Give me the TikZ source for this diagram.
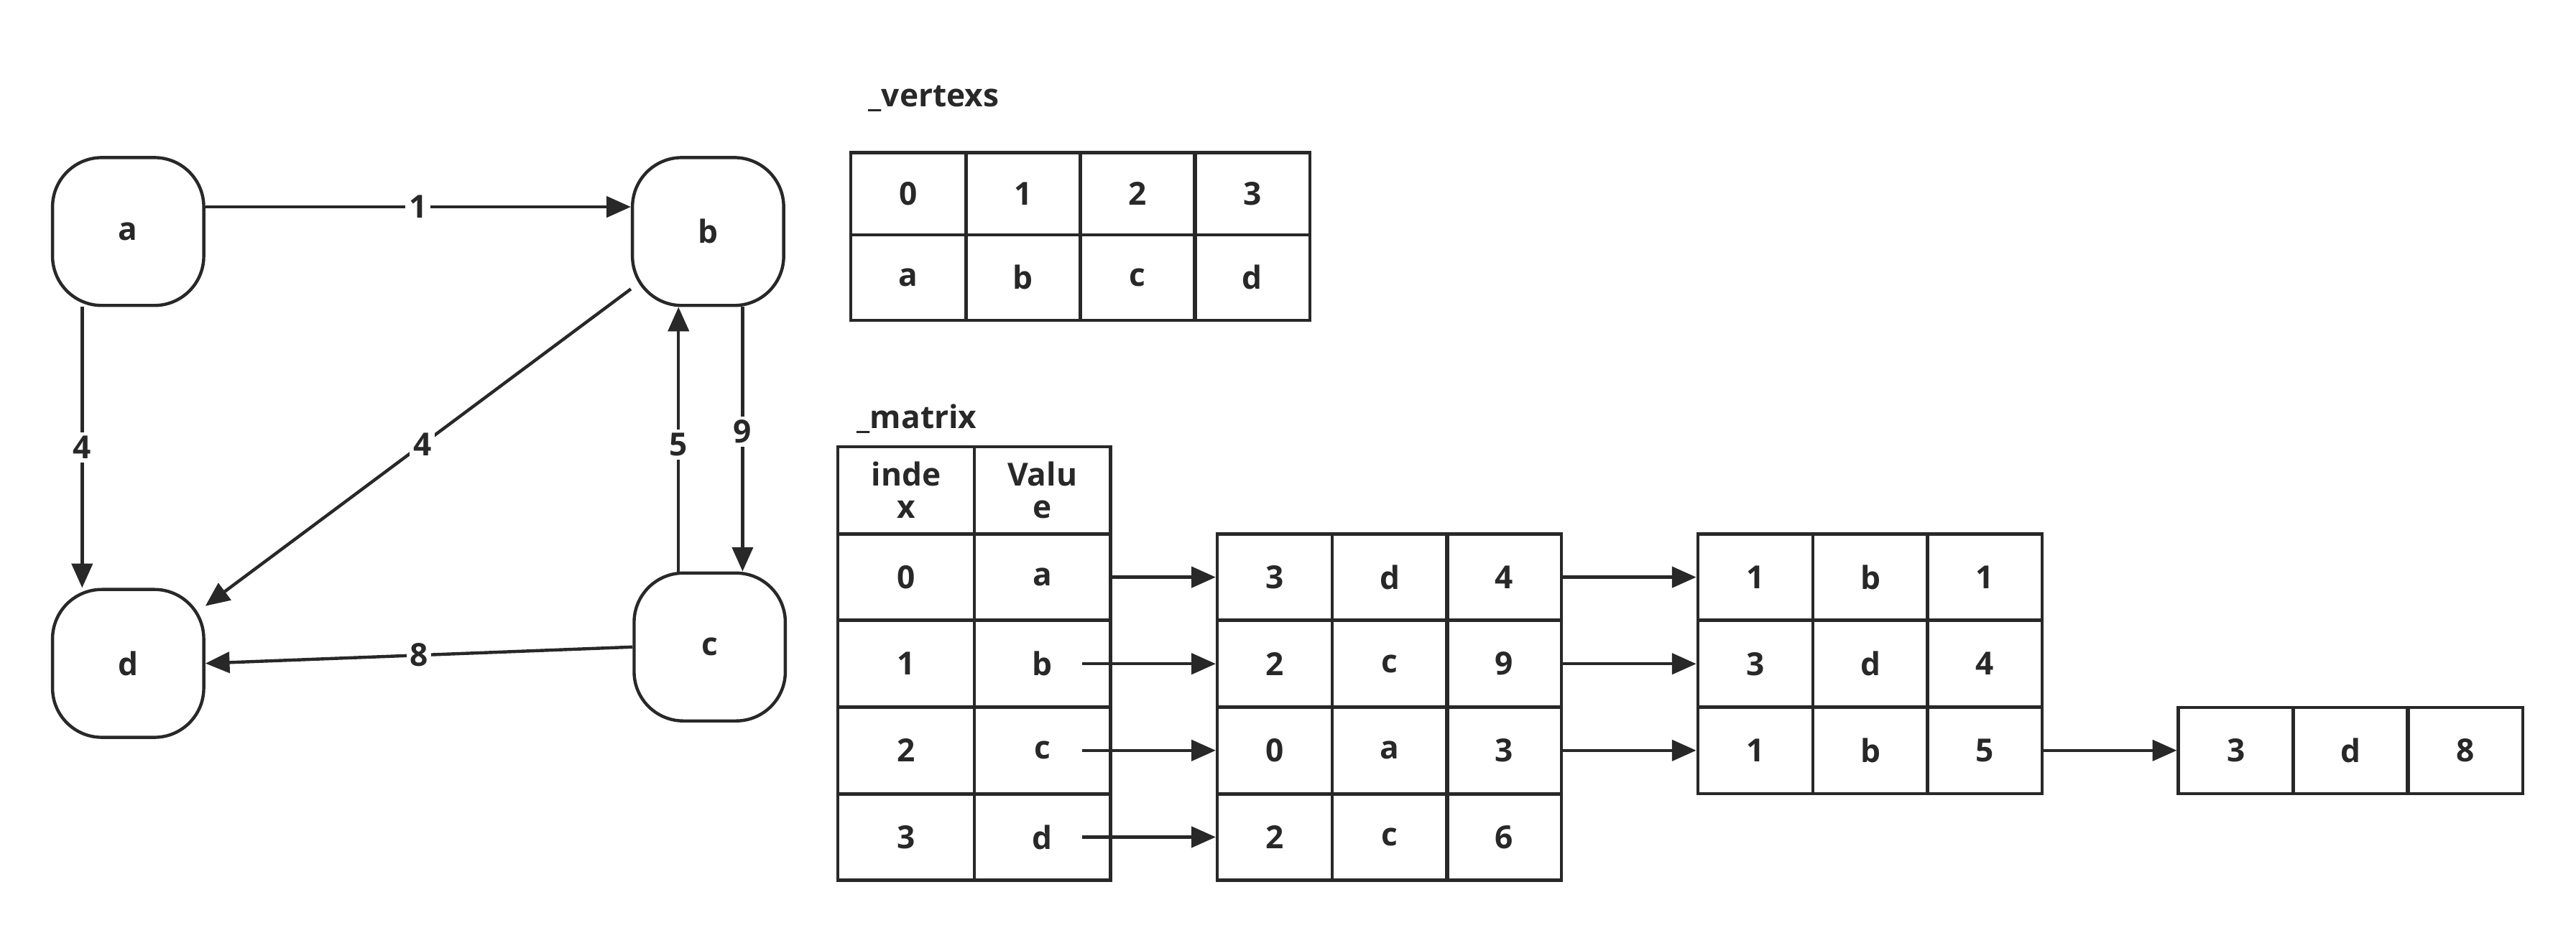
\documentclass[tikz,border=0pt]{standalone}
\usepackage{fontspec}
\setmainfont{Open Sans}
\usetikzlibrary{arrows.meta}
\begin{document}
\begin{tikzpicture}[x=0.01cm,y=-0.01cm,
  font=\fontsize{5.5}{6}\selectfont\bfseries,
  line width=0.55pt, color={rgb,255:red,40;green,40;blue,40},
  vert/.style={draw, rounded corners=0.3cm, minimum width=0.92cm, minimum height=0.9cm, inner sep=0},
  cell/.style={draw, inner sep=0, minimum height=0.525cm, align=center},
  arr/.style={-{Triangle[length=4.2pt,width=3.6pt]}},
  lab/.style={fill=white, inner sep=0.6pt}]
\useasboundingbox (0,0) rectangle (1568,568);
% graph
\node[vert] (a) at (78,141) {a};
\node[vert] (b) at (431,141) {b};
\node[vert] (d) at (78,404) {d};
\node[vert] (c) at (432,394) {c};
\draw[arr] (a.east |- 0,126) -- node[lab]{1} (b.west |- 0,126);
\draw[arr] (a.south -| 50,0) -- node[lab]{4} (d.north -| 50,0);
\draw[arr] (b) -- node[lab,pos=0.49]{4} (d);
\draw[arr] (c.north -| 413,0) -- node[lab,pos=0.48]{5} (b.south -| 413,0);
\draw[arr] (b.south -| 452,0) -- node[lab,pos=0.47]{9} (c.north -| 452,0);
\draw[arr] (c.west) -- node[lab]{8} (d.east);
% vertexs
\node[anchor=west] (vt) at (516,60) {\_vertexs};
\foreach \t [count=\i from 0] in {0,1,2,3}{
  \node[cell, minimum width=0.7cm, minimum height=0.5cm] (vi\i) at (553+69.75*\i,118) {\t};}
\foreach \t [count=\i from 0] in {a,b,c,d}{
  \node[cell, minimum width=0.7cm, minimum height=0.52cm] (vv\i) at (553+69.75*\i,169) {\t};}
% matrix
\node[anchor=west] (mt) at (509,255) {\_matrix};
\node[cell, minimum width=0.83cm, minimum height=0.53cm, font=\fontsize{5.5}{5.6}\selectfont\bfseries] (hi) at (551.5,298.5) {inde\\x};
\node[cell, minimum width=0.83cm, minimum height=0.53cm, font=\fontsize{5.5}{5.6}\selectfont\bfseries] (hv) at (634.5,298.5) {Valu\\e};
\foreach \t/\v [count=\i from 0] in {0/a,1/b,2/c,3/d}{
  \node[cell, minimum width=0.83cm] (mi\i) at (551.5,351.5+52.75*\i) {\t};
  \node[cell, minimum width=0.83cm] (mv\i) at (634.5,351.5+52.75*\i) {\v};}
% block 1
\foreach \p/\q/\r [count=\i from 0] in {3/d/4,2/c/9,0/a/3,2/c/6}{
  \node[cell, minimum width=0.7cm] (p\i) at (776,351.5+52.75*\i) {\p};
  \node[cell, minimum width=0.7cm] (q\i) at (846,351.5+52.75*\i) {\q};
  \node[cell, minimum width=0.7cm] (r\i) at (915.5,351.5+52.75*\i) {\r};}
% block 2
\foreach \p/\q/\r [count=\i from 0] in {1/b/1,3/d/4,1/b/5}{
  \node[cell, minimum width=0.7cm] (s\i) at (1068.5,351.5+52.75*\i) {\p};
  \node[cell, minimum width=0.7cm] (t\i) at (1138.5,351.5+52.75*\i) {\q};
  \node[cell, minimum width=0.7cm] (u\i) at (1208,351.5+52.75*\i) {\r};}
% block 3
\node[cell, minimum width=0.7cm] (x0) at (1361,457) {3};
\node[cell, minimum width=0.7cm] (y0) at (1431,457) {d};
\node[cell, minimum width=0.7cm] (z0) at (1500.5,457) {8};
% arrows
\draw[arr] (mv0.east) -- (p0.west);
\foreach \i in {1,2,3}{\draw[arr] ([xshift=0.24cm]mv\i.center) -- (p\i.west);}
\foreach \i in {0,1,2}{\draw[arr] (r\i.east) -- (s\i.west);}
\draw[arr] (u2.east) -- (x0.west);
\end{tikzpicture}
\end{document}
